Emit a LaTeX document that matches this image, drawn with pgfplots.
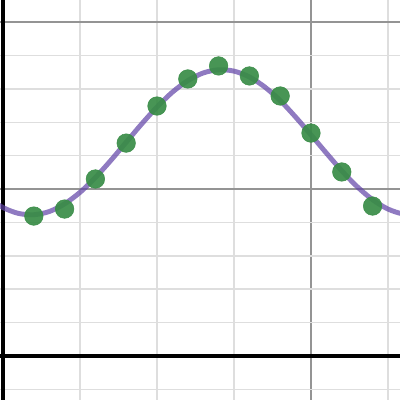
\documentclass[border=0pt]{standalone}
\usepackage{pgfplots}
\pgfplotsset{compat=1.18}
\definecolor{dgreen}{HTML}{388C46}
\definecolor{dpurple}{HTML}{6042A6}
\begin{document}
\begin{tikzpicture}
\begin{axis}[
  width=10cm, height=10cm, scale only axis,
  xmin=-0.0195, xmax=2.578,
  ymin=-0.2635, ymax=2.132,
  axis line style={draw=none},
  xtick={2}, ytick={1,2},
  minor xtick={-0.5,0.5,1,1.5,2.5},
  minor ytick={-0.2,0.2,0.4,0.6,0.8,1.2,1.4,1.6,1.8},
  xticklabels={}, yticklabels={},
  tick style={draw=none},
  grid=both,
  major grid style={color=black!42, line width=0.8pt},
  minor grid style={color=black!13, line width=1pt},
  extra x ticks={0}, extra y ticks={0},
  extra x tick labels={}, extra y tick labels={},
  extra tick style={grid=major, major grid style={color=black, line width=2.2pt}},
]
\addplot[only marks, mark=*, mark size=6.6pt, color=dgreen, opacity=0.92]
  coordinates {
  (0.2,0.838) (0.4,0.880) (0.6,1.060) (0.8,1.275) (1.0,1.497) (1.2,1.659)
  (1.4,1.737) (1.6,1.677) (1.8,1.557) (2.0,1.335) (2.2,1.102) (2.4,0.898)
  };
\addplot[smooth, no marks, dpurple, draw opacity=0.7, line width=3.5pt]
  coordinates {
  (-0.1,0.950) (0.0,0.889) (0.1,0.854) (0.2,0.846) (0.3,0.865) (0.4,0.911)
  (0.5,0.980) (0.6,1.069) (0.7,1.171) (0.8,1.280) (0.9,1.389) (1.0,1.491)
  (1.1,1.580) (1.2,1.649) (1.3,1.695) (1.4,1.714) (1.5,1.706) (1.6,1.671)
  (1.7,1.611) (1.8,1.530) (1.9,1.431) (2.0,1.324) (2.1,1.215) (2.2,1.109)
  (2.3,1.014) (2.4,0.936) (2.5,0.880) (2.6,0.850) (2.7,0.847)
  };
\end{axis}
\pgfresetboundingbox
\path[use as bounding box] (current axis.south west) rectangle (current axis.north east);
\end{tikzpicture}
\end{document}
